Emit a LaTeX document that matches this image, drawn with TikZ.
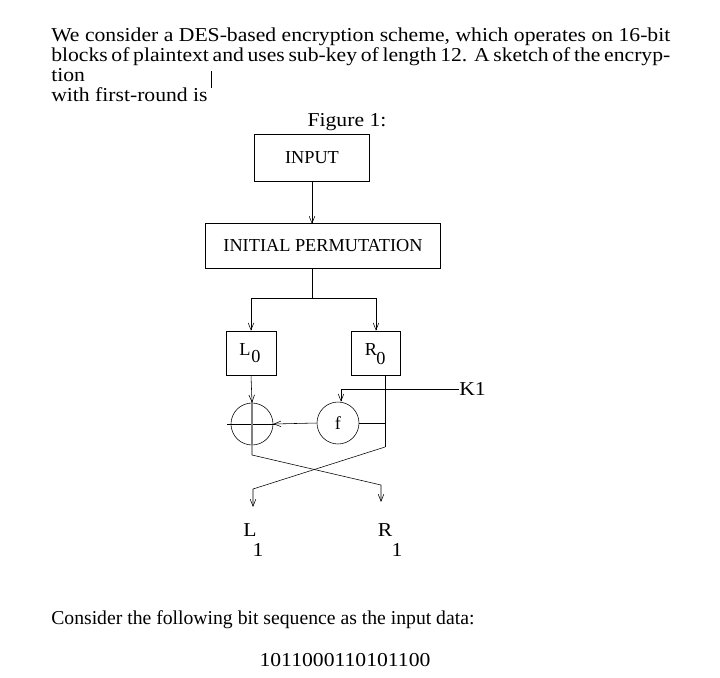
\documentclass[tikz,border=0pt]{standalone}
\usepackage{fontspec}
\setmainfont{Liberation Serif}
\newfontfamily\widefont[FakeStretch=1.1]{Liberation Serif}
\usetikzlibrary{arrows.meta}
\begin{document}
\begin{tikzpicture}[x=0.025cm,y=-0.025cm,
		>={Straight Barb[length=5pt,width=4pt]},
		box/.style={draw,minimum width=#1,inner sep=0pt},
		circ/.style={draw,circle,minimum size=42*0.025cm,inner sep=0pt},
		lbl/.style={inner sep=0pt,font=\fontsize{13}{14}\selectfont},
		body/.style={inner sep=0pt,font=\widefont\fontsize{14}{14.2}\selectfont}]
		\useasboundingbox (0,0) rectangle (720,677);
		% text above the figure
		\node[body,anchor=north west,text width=619*0.025cm,align=justify] (intro) at (51,28)
			{We consider a DES-based encryption scheme, which operates on 16-bit\linebreak blocks of plaintext and uses sub-key of length 12. A sketch of the encryption\linebreak with first-round is};
		\coordinate (cur) at (211,71);
		\draw (cur) -- ++(0,17);
		\node[body] (fig) at (347,122) {Figure 1:};
		
		% boxes
		\node[box=115*0.025cm,minimum height=47*0.025cm,lbl] (input) at (312,158) {INPUT};
		\node[box=235*0.025cm,minimum height=45*0.025cm,lbl] (perm) at (323,246) {INITIAL PERMUTATION};
		\node[box=50*0.025cm,minimum height=44*0.025cm] (L0) at (251,353) {};
		\node[lbl] at (245,350) {L};
		\node[lbl] at (256,357) {0};
		\node[box=49*0.025cm,minimum height=44*0.025cm] (R0) at (376,353) {};
		\node[lbl] at (371,350) {R};
		\node[lbl] at (381,359) {0};
		\draw[->] (input.south) -- (312,224);
		
		% split
		\coordinate (sp) at (312,298);
		\draw (perm.south -| sp) -- (sp);
		\draw[->] (sp) -| (L0.north);
		\draw[->] (sp) -| (R0.north);
		
		% round
		\node[circ] (xor) at (252,424) {};
		\draw (227,424) -- (275,424);
		\draw[gray,thick] (252,400) -- (252,445);
		\node[circ,lbl] (f) at (338,423) {f};
		\node[body,anchor=west] (K1) at (459,389) {K1};
		\draw[->] (L0.south) -- (xor.north);
		\draw[->] (f.west) -- (xor.east);
		\coordinate (rb) at (385,447);
		\draw (L0.south -| rb) -- (rb);
		\draw (f.east) -- (f.east -| rb);
		\coordinate (kf) at (341,389);
		\draw[->] (K1.west) -- (kf) -- (f.north -| kf);
		
		% crossing
		\node[body] (L1a) at (250,530) {L};
		\node[body] (L1b) at (258,550) {1};
		\node[body] (R1a) at (385,530) {R};
		\node[body] (R1b) at (397,550) {1};
		\draw[->] (xor.south) -- (252,455) -- (381,485) -- (381,502);
		\draw[->] (rb) -- (253,489) -- (253,507);
		
		% text below the figure
		\node[lbl,font=\fontsize{14}{14}\selectfont,anchor=west] (cons) at (51,620) {Consider the following bit sequence as the input data:};
		\node[body] (bits) at (345,660) {1011000110101100};
\end{tikzpicture}
\end{document}
